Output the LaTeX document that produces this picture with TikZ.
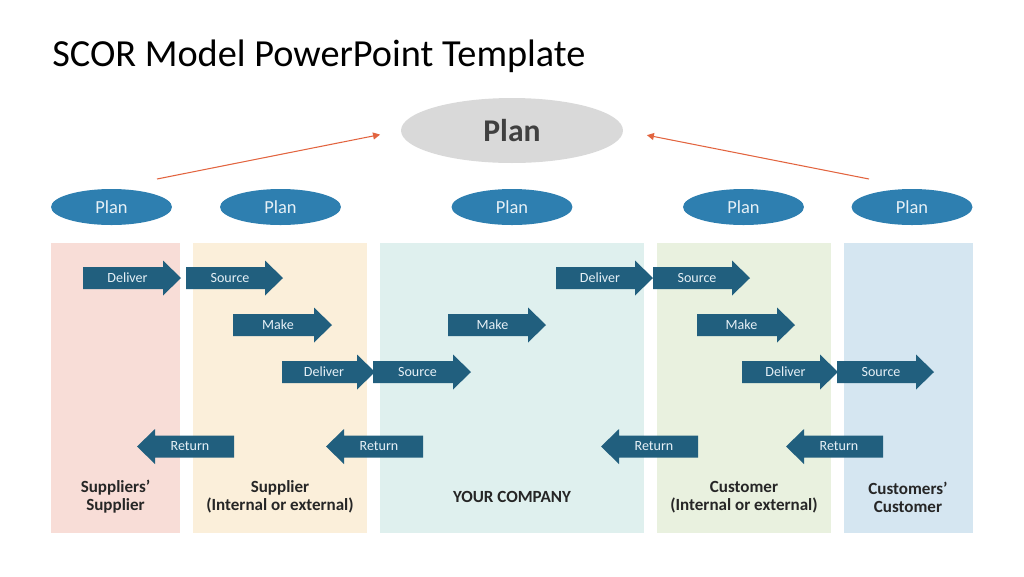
\documentclass[tikz,border=0pt]{standalone}
\usepackage{fontspec}
\setmainfont{Carlito}
\usetikzlibrary{shapes.geometric,arrows.meta}
\definecolor{procblue}{HTML}{215F7E}
\definecolor{planblue}{HTML}{2E7FB0}
\definecolor{plangray}{HTML}{D9D9D9}
\definecolor{linkred}{HTML}{E2643F}
\definecolor{colpink}{HTML}{F8DDD7}
\definecolor{colcream}{HTML}{FBEFDA}
\definecolor{colteal}{HTML}{DFF0EE}
\definecolor{colgreen}{HTML}{E9F1DF}
\definecolor{colblue}{HTML}{D5E6F1}
\definecolor{lighttext}{HTML}{E6F0F6}
\tikzset{
  plansmall/.style={ellipse,fill=planblue,minimum width=2.42cm,minimum height=0.72cm,inner sep=0pt,text=lighttext,font=\fontsize{10.5}{12}\selectfont},
  proctext/.style={text=lighttext,inner sep=0pt,font=\fontsize{8}{9}\selectfont},
  actor/.style={align=center,text=black!85,inner sep=0pt,font=\bfseries\fontsize{9.7}{10.3}\selectfont},
  link/.style={draw=linkred,line width=0.6pt,-{Triangle[length=4pt,width=4pt]}}
}
% right arrow: name, tail x, tip x, y, text
\newcommand{\rproc}[5]{%
  \fill[procblue] (#2,#4-11) -- (#3-18,#4-11) -- (#3-18,#4-17.5) -- (#3,#4) -- (#3-18,#4+17.5) -- (#3-18,#4+11) -- (#2,#4+11) -- cycle;
  \node[proctext] (#1) at ({(#2+#3-9)/2},#4) {#5};}
% left arrow: name, tip x, tail x, y, text
\newcommand{\lproc}[5]{%
  \fill[procblue] (#3,#4-11) -- (#2+18,#4-11) -- (#2+18,#4-17.5) -- (#2,#4) -- (#2+18,#4+17.5) -- (#2+18,#4+11) -- (#3,#4+11) -- cycle;
  \node[proctext] (#1) at ({(#2+#3+9)/2},#4) {#5};}
\begin{document}
\begin{tikzpicture}[x=0.02cm,y=-0.02cm]
\useasboundingbox (0,0) rectangle (1024,576);
\node[anchor=base west,inner sep=0pt,font=\fontsize{21.8}{24}\selectfont] (title) at (52,66) {SCOR Model PowerPoint Template};
%
\fill[colpink] (51,243) rectangle (180,533);
\fill[colcream] (193,243) rectangle (367,533);
\fill[colteal] (380,243) rectangle (644,533);
\fill[colgreen] (657,243) rectangle (831,533);
\fill[colblue] (844,243) rectangle (973,533);
%
\node[ellipse,fill=plangray,minimum width=4.44cm,minimum height=1.3cm,inner sep=0pt,text=black!75,font=\bfseries\fontsize{18}{20}\selectfont] (plan) at (512,130.5) {Plan};
%
\node[plansmall] (plan1) at (111.5,207) {Plan};
\node[plansmall] (plan2) at (280.5,207) {Plan};
\node[plansmall] (plan3) at (512,207) {Plan};
\node[plansmall] (plan4) at (743.5,207) {Plan};
\node[plansmall] (plan5) at (912,207) {Plan};
%
\coordinate (from1) at (157,179);
\coordinate (from5) at (869,179);
\draw[link,shorten >=0.42cm] (from1) -- (plan.west);
\draw[link,shorten >=0.48cm] (from5) -- (plan.east);
%
\rproc{del1}{83}{181}{278}{Deliver}
\rproc{src2}{186}{283}{278}{Source}
\rproc{del3}{556}{653}{278}{Deliver}
\rproc{src4}{653}{750}{278}{Source}
%
\rproc{make2}{233}{332}{325}{Make}
\rproc{make3}{448}{546}{325}{Make}
\rproc{make4}{697}{795}{325}{Make}
%
\rproc{del2}{282}{375}{372}{Deliver}
\rproc{src3}{373}{471}{372}{Source}
\rproc{del4}{742}{838}{372}{Deliver}
\rproc{src5}{837}{934}{372}{Source}
%
\lproc{ret1}{137}{234}{446.5}{Return}
\lproc{ret2}{326}{423}{446.5}{Return}
\lproc{ret3}{601}{698}{446.5}{Return}
\lproc{ret4}{786}{883}{446.5}{Return}
%
\node[actor] (sup1) at (115.5,497) {Suppliers’\\Supplier};
\node[actor] (sup2) at (280,497) {Supplier\\(Internal or external)};
\node[actor] (comp) at (512,497) {YOUR COMPANY};
\node[actor] (cus4) at (744,497) {Customer\\(Internal or external)};
\node[actor] (cus5) at (908,497) {Customers’\\Customer};
\end{tikzpicture}
\end{document}
